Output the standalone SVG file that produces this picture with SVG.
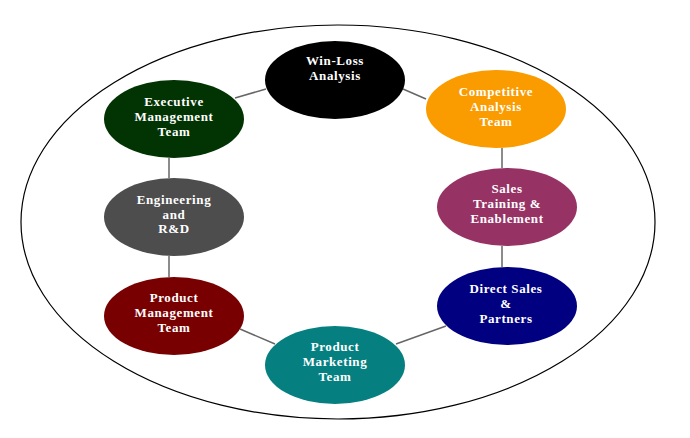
<svg xmlns="http://www.w3.org/2000/svg" width="690" height="438" viewBox="0 0 690 438">
<style>
.lbl{font-family:"Liberation Serif","Times New Roman",serif;font-weight:bold;font-size:13px;letter-spacing:0.6px;fill:#ffffff;text-anchor:middle}
.conn line{stroke:#666666;stroke-width:1.5}
</style>
<rect x="0" y="0" width="690" height="438" fill="#ffffff"/>
<ellipse id="boundary" cx="338" cy="222" rx="317" ry="197" fill="none" stroke="#000000" stroke-width="1.2"/>
<g id="connectors" class="conn">
<line x1="235" y1="98" x2="266" y2="89"/>
<line x1="403" y1="89" x2="426" y2="99"/>
<line x1="502" y1="148" x2="502" y2="168"/>
<line x1="502" y1="246" x2="502" y2="267"/>
<line x1="446" y1="326" x2="396" y2="344"/>
<line x1="275" y1="344" x2="240" y2="329"/>
<line x1="169" y1="256" x2="169" y2="277"/>
<line x1="169" y1="158" x2="169" y2="178"/>
</g>
<g id="win-loss">
<ellipse cx="335" cy="80" rx="70" ry="39" fill="#000000"/>
<text class="lbl" x="335" y="65">Win-Loss</text>
<text class="lbl" x="335" y="80">Analysis</text>
</g>
<g id="competitive">
<ellipse cx="496" cy="109" rx="70" ry="39" fill="#FA9B00"/>
<text class="lbl" x="496" y="96">Competitive</text>
<text class="lbl" x="496" y="111">Analysis</text>
<text class="lbl" x="496" y="126">Team</text>
</g>
<g id="sales-training">
<ellipse cx="507" cy="207" rx="70" ry="39" fill="#963264"/>
<text class="lbl" x="507" y="193">Sales</text>
<text class="lbl" x="507" y="208">Training &amp;</text>
<text class="lbl" x="507" y="223">Enablement</text>
</g>
<g id="direct-sales">
<ellipse cx="507" cy="306" rx="70" ry="39" fill="#000080"/>
<text class="lbl" x="506" y="293">Direct Sales</text>
<text class="lbl" x="506" y="308">&amp;</text>
<text class="lbl" x="506" y="323">Partners</text>
</g>
<g id="product-marketing">
<ellipse cx="335" cy="365" rx="70" ry="39" fill="#057F7F"/>
<text class="lbl" x="335" y="351">Product</text>
<text class="lbl" x="335" y="366">Marketing</text>
<text class="lbl" x="335" y="381">Team</text>
</g>
<g id="product-management">
<ellipse cx="174" cy="316" rx="70" ry="39" fill="#780000"/>
<text class="lbl" x="174" y="302">Product</text>
<text class="lbl" x="174" y="317">Management</text>
<text class="lbl" x="174" y="332">Team</text>
</g>
<g id="engineering">
<ellipse cx="174" cy="217" rx="70" ry="39" fill="#4D4D4D"/>
<text class="lbl" x="174" y="204">Engineering</text>
<text class="lbl" x="174" y="219">and</text>
<text class="lbl" x="174" y="233">R&amp;D</text>
</g>
<g id="executive">
<ellipse cx="174" cy="119" rx="70" ry="39" fill="#023302"/>
<text class="lbl" x="174" y="106">Executive</text>
<text class="lbl" x="174" y="121">Management</text>
<text class="lbl" x="174" y="136">Team</text>
</g>
</svg>
